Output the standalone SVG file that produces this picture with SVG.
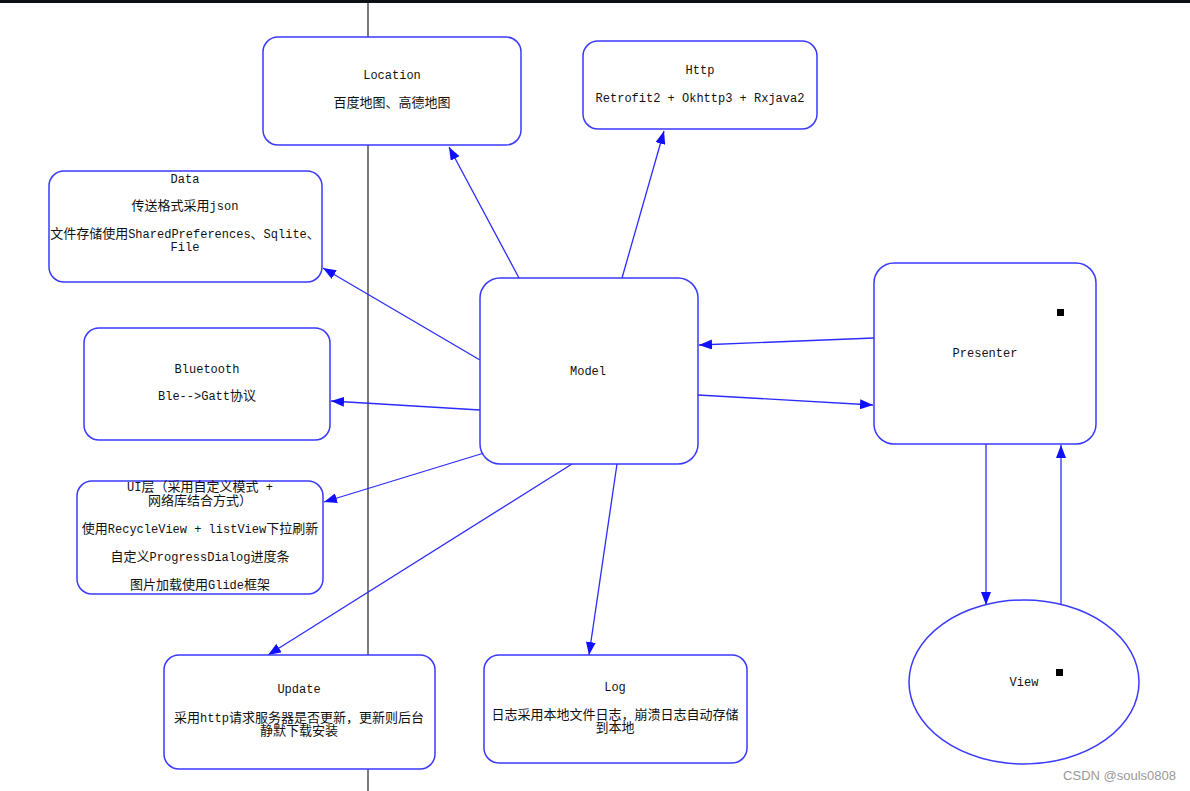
<svg xmlns="http://www.w3.org/2000/svg" width="1190" height="791" viewBox="0 0 1190 791">
<defs>
<style>
.box{fill:#fff;stroke:#3a3aff;stroke-width:1.5}
.t{font-family:"Liberation Mono","Noto Sans CJK SC",monospace;font-size:12px;fill:#111;text-anchor:middle}
.k{font-size:13px}
.c{stroke:#2b2bff;stroke-width:1.3;fill:none}
</style>
<marker id="ah" markerUnits="userSpaceOnUse" markerWidth="14" markerHeight="10" refX="13" refY="5" orient="auto">
<path d="M0,0 L13,5 L0,10 Z" fill="#1010ff"/>
</marker>
</defs>
<rect x="0" y="0" width="1190" height="791" fill="#fff"/>
<rect x="0" y="0" width="1190" height="3" fill="#0d1117"/>
<line x1="368" y1="3" x2="368" y2="791" stroke="#222" stroke-width="1.2"/>
<g id="connectors">
<line class="c" x1="519" y1="278" x2="449" y2="147" marker-end="url(#ah)"/>
<line class="c" x1="622" y1="278" x2="664" y2="131" marker-end="url(#ah)"/>
<line class="c" x1="480" y1="360" x2="323" y2="268" marker-end="url(#ah)"/>
<line class="c" x1="480" y1="410" x2="331" y2="401" marker-end="url(#ah)"/>
<line class="c" x1="484" y1="453" x2="324" y2="502" marker-end="url(#ah)"/>
<line class="c" x1="572" y1="464" x2="268" y2="655" marker-end="url(#ah)"/>
<line class="c" x1="617" y1="464" x2="589" y2="655" marker-end="url(#ah)"/>
<line class="c" x1="874" y1="338" x2="699" y2="345" marker-end="url(#ah)"/>
<line class="c" x1="698" y1="395" x2="873" y2="405" marker-end="url(#ah)"/>
<line class="c" x1="986" y1="444" x2="986" y2="605" marker-end="url(#ah)"/>
<line class="c" x1="1061" y1="605" x2="1061" y2="445" marker-end="url(#ah)"/>
</g>
<g id="location">
<rect class="box" x="263" y="37" width="258" height="108" rx="15"/>
<text class="t" x="392" y="79">Location</text>
<text class="t k" x="392" y="107">百度地图、高德地图</text>
</g>
<g id="http">
<rect class="box" x="583" y="41" width="234" height="88" rx="15"/>
<text class="t" x="700" y="74">Http</text>
<text class="t" x="700" y="102">Retrofit2 + Okhttp3 + Rxjava2</text>
</g>
<g id="data">
<rect class="box" x="49" y="171" width="273" height="111" rx="15"/>
<text class="t" x="185" y="183">Data</text>
<text class="t" x="185" y="210"><tspan class="k">传送格式采用</tspan>json</text>
<text class="t" x="185" y="238"><tspan class="k">文件存储使用</tspan>SharedPreferences<tspan class="k">、</tspan>Sqlite<tspan class="k">、</tspan></text>
<text class="t" x="185" y="251">File</text>
</g>
<g id="bluetooth">
<rect class="box" x="84" y="328" width="246" height="112" rx="15"/>
<text class="t" x="207" y="373">Bluetooth</text>
<text class="t" x="207" y="400">Ble--&gt;Gatt<tspan class="k">协议</tspan></text>
</g>
<g id="ui">
<rect class="box" x="77" y="481" width="246" height="113" rx="15"/>
<text class="t" x="200" y="491">UI<tspan class="k">层（采用自定义模式</tspan> +</text>
<text class="t k" x="200" y="505">网络库结合方式）</text>
<text class="t" x="200" y="533"><tspan class="k">使用</tspan>RecycleView + listView<tspan class="k">下拉刷新</tspan></text>
<text class="t" x="200" y="561"><tspan class="k">自定义</tspan>ProgressDialog<tspan class="k">进度条</tspan></text>
<text class="t" x="200" y="589"><tspan class="k">图片加载使用</tspan>Glide<tspan class="k">框架</tspan></text>
</g>
<g id="update">
<rect class="box" x="164" y="655" width="271" height="114" rx="15"/>
<text class="t" x="299" y="693">Update</text>
<text class="t" x="299" y="722"><tspan class="k">采用</tspan>http<tspan class="k">请求服务器是否更新，更新则后台</tspan></text>
<text class="t k" x="299" y="735">静默下载安装</text>
</g>
<g id="log">
<rect class="box" x="484" y="655" width="263" height="108" rx="15"/>
<text class="t" x="615" y="691">Log</text>
<text class="t k" x="615" y="719">日志采用本地文件日志，崩溃日志自动存储</text>
<text class="t k" x="615" y="732">到本地</text>
</g>
<g id="model">
<rect class="box" x="480" y="278" width="218" height="186" rx="20"/>
<text class="t" x="588" y="375">Model</text>
</g>
<g id="presenter">
<rect class="box" x="874" y="263" width="222" height="181" rx="20"/>
<text class="t" x="985" y="357">Presenter</text>
<rect x="1057" y="309" width="7" height="7" fill="#000"/>
</g>
<g id="view">
<ellipse class="box" cx="1024" cy="682" rx="115" ry="82"/>
<text class="t" x="1024" y="686">View</text>
<rect x="1056" y="669" width="7" height="7" fill="#000"/>
</g>
<text x="1176" y="780" font-family="Liberation Sans, sans-serif" font-size="13" fill="#999" text-anchor="end">CSDN @souls0808</text>
</svg>
